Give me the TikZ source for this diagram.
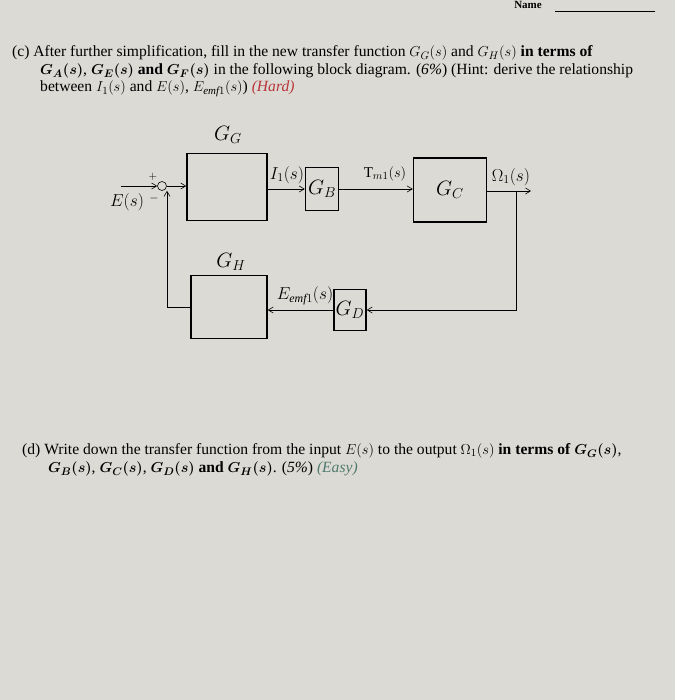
\documentclass[tikz,border=0pt]{standalone}
\usepackage{fontspec}
\setmainfont{Liberation Serif}
\usetikzlibrary{arrows.meta}
\definecolor{paper}{HTML}{DCDAD4}
\definecolor{hardred}{HTML}{B8353A}
\definecolor{easygreen}{HTML}{4F7A6E}
\newcommand{\bmath}[1]{{\boldmath$#1$}}
\begin{document}
\begin{tikzpicture}[x=1pt,y=-1pt,
  blk/.style={draw,line width=1.4pt,inner sep=0pt},
  sig/.style={line width=0.6pt,-{Straight Barb[length=5pt,width=6pt]}},
  ln/.style={line width=0.6pt},
  gl/.style={font=\fontsize{22}{24}\selectfont},
  sl/.style={font=\fontsize{17}{19}\selectfont},
  para/.style={anchor=west,inner sep=0pt,font=\fontsize{15.6}{18}\selectfont}]
\fill[paper] (0,0) rectangle (675,700);
\useasboundingbox (0,0) rectangle (675,700);
% header
\node[anchor=north,inner sep=0pt,font=\fontsize{11}{13}\selectfont\bfseries] (name) at (528,1) {Name};
\draw[ln] (555,11) -- (655,11);
% part (c)
\node[para] (c1) at (12,53) {(c) After further simplification, fill in the new transfer function $G_G(s)$ and $G_H(s)$ \textbf{in terms of}};
\node[para] (c2) at (40,71) {\bmath{G_A(s)}, \bmath{G_E(s)} \textbf{and} \bmath{G_F(s)} in the following block diagram. (\textit{6\%}) (Hint: derive the relationship};
\node[para] (c3) at (40,89) {between $I_1(s)$ and $E(s)$, $E_{\mathit{emf}1}(s)$) \textcolor{hardred}{\textit{(Hard)}}};
% blocks
\node[blk,minimum width=80,minimum height=67] (gg) at (227,187) {};
\node[gl] (ggl) at (228,135) {$G_G$};
\node[blk,minimum width=33,minimum height=43,gl] (gb) at (322,189) {$G_B$};
\node[blk,minimum width=73,minimum height=64,gl] (gc) at (450,190) {$G_C$};
\node[blk,minimum width=32,minimum height=41,gl] (gd) at (350,310) {$G_D$};
\node[blk,minimum width=76,minimum height=63] (gh) at (229,307) {};
\node[gl] (ghl) at (231,262) {$G_H$};
\node[draw,circle,line width=0.6pt,minimum size=9pt,inner sep=0pt] (sum) at (162,186) {};
% signals
\coordinate (ein) at (121,186);
\draw[sig] (ein) -- (sum.west);
\node[sl] (es) at (127,202) {$E(s)$};
\node (plus) at (153,177) {\fontsize{11}{12}\selectfont$+$};
\node (minus) at (154,199) {\fontsize{12}{12}\selectfont$-$};
\draw[sig] (sum.east) -- (gg.west |- sum.east);
\draw[sig] (gg.east |- gb.west) -- (gb.west);
\node[sl] (i1) at (287,175) {$I_1(s)$};
\draw[sig] (gb.east) -- (gc.west |- gb.east);
\node (tm) at (385,174) {\fontsize{15}{17}\selectfont T$_{m1}(s)$};
\coordinate (out) at (531,191);
\coordinate (br) at (516,191);
\draw[sig] (gc.east |- out) -- (out);
\node[sl] (om) at (511,177) {$\Omega_1(s)$};
\coordinate (brd) at (516,310);
\draw[sig] (br) -- (brd) -- (gd.east);
\draw[sig] (gd.west) -- (gh.east |- gd.west);
\node[sl] (emf) at (305,296) {$E_{\mathit{emf}1}(s)$};
\coordinate (fb) at (167,307);
\draw[sig] (gh.west) -- (fb) -- (fb |- sum.south);
% part (d)
\node[para] (d1) at (22,451) {(d) Write down the transfer function from the input $E(s)$ to the output $\Omega_1(s)$ \textbf{in terms of} \bmath{G_G(s)},};
\node[para] (d2) at (48,469) {\bmath{G_B(s)}, \bmath{G_C(s)}, \bmath{G_D(s)} \textbf{and} \bmath{G_H(s)}. (\textit{5\%}) \textcolor{easygreen}{\textit{(Easy)}}};
\end{tikzpicture}
\end{document}
